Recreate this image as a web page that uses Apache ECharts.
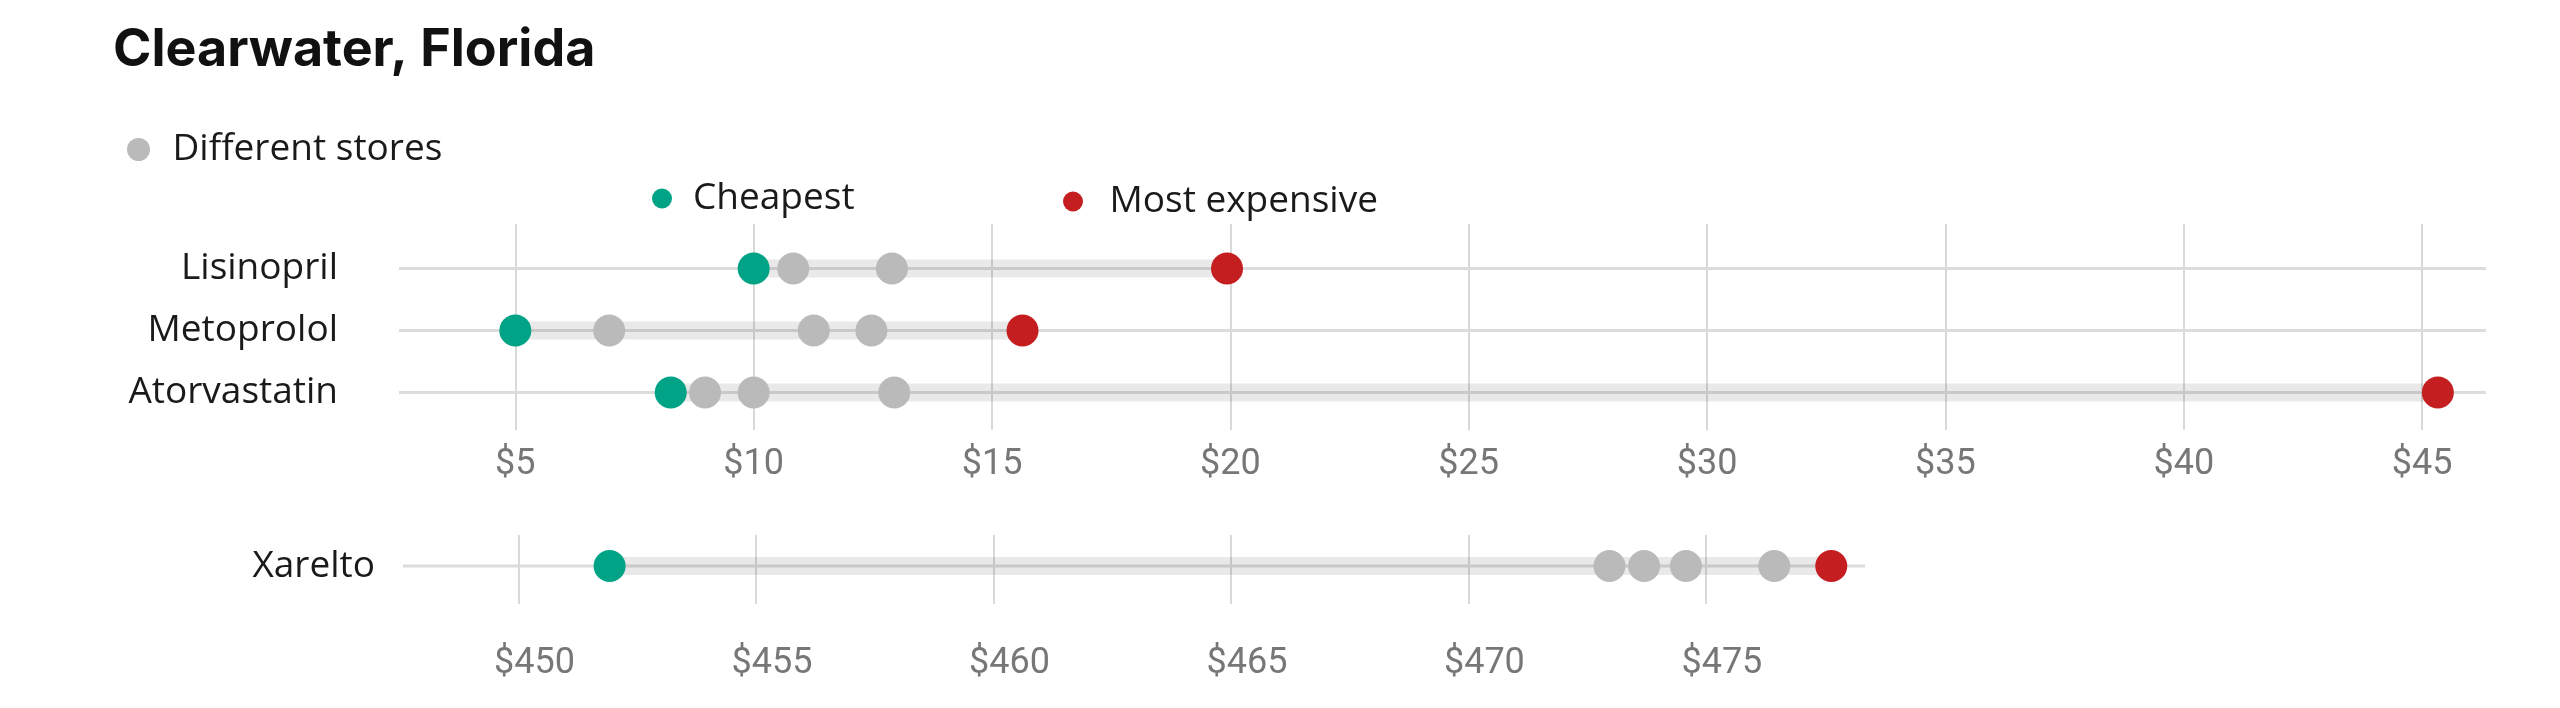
<!DOCTYPE html>
<html>
<head>
<meta charset="utf-8">
<script src="https://cdn.jsdelivr.net/npm/echarts@6/dist/echarts.min.js"></script>
<style>
html,body{margin:0;padding:0;background:#fff;}
#chart{width:2560px;height:708px;}
</style>
</head>
<body>
<div id="chart"></div>
<script>
// ---- data ----
const titleText = 'Clearwater, Florida';
const drugs = ['Lisinopril', 'Metoprolol', 'Atorvastatin'];
const cheapest = [10.0, 5.0, 8.26];
const mostExpensive = [19.93, 15.64, 45.33];
const storePrices = [
  [10.83, 12.9],
  [6.97, 11.26, 12.47],
  [8.98, 10.0, 12.95]
];
const drugs2 = ['Xarelto'];
const cheapest2 = [451.92];
const mostExpensive2 = [477.64];
const storePrices2 = [
  [472.97, 473.7, 474.58, 476.44]
];
const topRange = [2.56, 46.34];
const bottomRange = [447.57, 478.35];
const tickStep = 5;
const legendNames = ['Different stores', 'Cheapest', 'Most expensive'];

// ---- styles ----
const C_GREY = '#bababa';
const C_GREEN = '#00a385';
const C_RED = '#c41e20';
const DOT = 32;

function storePoints(names, prices) {
  const out = [];
  names.forEach((n, i) => prices[i].forEach(v => out.push([v, n])));
  return out;
}
function pairPoints(names, vals) {
  return names.map((n, i) => [vals[i], n]);
}
function bandData(names, lo, hi) {
  return names.map((n, i) => [n, lo[i], hi[i]]);
}
function renderBand(params, api) {
  const cat = api.value(0);
  const cs = params.coordSys;
  const p0 = api.coord([api.value(1), cat]);
  const p1 = api.coord([api.value(2), cat]);
  const y = p0[1];
  return {
    type: 'group',
    children: [
      {type: 'line', shape: {x1: cs.x, y1: y, x2: cs.x + cs.width, y2: y},
       style: {stroke: '#dcdcdc', lineWidth: 3}},
      {type: 'rect', shape: {x: p0[0], y: y - 9, width: p1[0] - p0[0], height: 18},
       style: {fill: 'rgba(0,0,0,0.085)'}}
    ]
  };
}

function visibleX(gi, range, labelMargin, padLeft) {
  return {
    gridIndex: gi, type: 'value', min: range[0], max: range[1],
    minInterval: tickStep, maxInterval: tickStep,
    axisLine: {show: false}, axisTick: {show: false},
    splitLine: {show: true, showMinLine: false, showMaxLine: false,
      lineStyle: {color: '#d9d9d9', width: 2}},
    axisLabel: {formatter: v => '$' + v, fontFamily: 'Roboto', fontSize: 36,
      color: '#777777', margin: labelMargin, showMinLabel: false, showMaxLabel: false,
      padding: [0, 0, 0, padLeft]}
  };
}
function hiddenX(gi, range) {
  return {gridIndex: gi, type: 'value', min: range[0], max: range[1], show: false,
    splitLine: {show: false}};
}
function catY(gi, names, margin) {
  return {gridIndex: gi, type: 'category', data: names, inverse: true,
    axisLine: {show: false}, axisTick: {show: false}, splitLine: {show: false},
    axisLabel: {fontFamily: 'Open Sans', fontSize: 37, color: '#1a1a1a', margin: margin}};
}
function hiddenY(gi) {
  return {gridIndex: gi, type: 'value', min: 0, max: 1, show: false, splitLine: {show: false}};
}
function dotSeries(name, color, xi, yi, data) {
  return {name: name, type: 'scatter', xAxisIndex: xi, yAxisIndex: yi,
    symbol: 'circle', symbolSize: DOT, itemStyle: {color: color, opacity: 1},
    data: data, z: 3, emphasis: {disabled: true}};
}

const chart = echarts.init(document.getElementById('chart'));
chart.setOption({
  animation: false,
  backgroundColor: '#ffffff',
  title: {
    text: titleText, left: 108, top: 19,
    textStyle: {fontFamily: 'Inter', fontWeight: 'bold', fontSize: 52, color: '#111111'}
  },
  legend: [
    {data: [legendNames[0]], left: 127, top: 131, padding: 0, icon: 'circle',
     itemWidth: 58, itemHeight: 23, selectedMode: false,
     textStyle: {fontFamily: 'Open Sans', fontSize: 37, color: '#1a1a1a'}},
    {data: [legendNames[1]], left: 652, top: 180, padding: 0, icon: 'circle',
     itemWidth: 52, itemHeight: 20, selectedMode: false,
     textStyle: {fontFamily: 'Open Sans', fontSize: 37, color: '#1a1a1a'}},
    {data: [legendNames[2]], left: 1063, top: 183, padding: 0, icon: 'circle',
     itemWidth: 63, itemHeight: 20, selectedMode: false,
     textStyle: {fontFamily: 'Open Sans', fontSize: 37, color: '#1a1a1a'}}
  ],
  grid: [
    {left: 399, width: 2087, top: 224, height: 206},
    {left: 399, width: 2087, top: 237.5, height: 186},
    {left: 403, width: 1462, top: 535, height: 69},
    {left: 403, width: 1462, top: 546, height: 40}
  ],
  xAxis: [
    visibleX(0, topRange, 17, 0),
    hiddenX(1, topRange),
    visibleX(2, bottomRange, 42, 32),
    hiddenX(3, bottomRange)
  ],
  yAxis: [
    hiddenY(0),
    catY(1, drugs, 61),
    hiddenY(2),
    catY(3, drugs2, 28)
  ],
  series: [
    {type: 'custom', xAxisIndex: 1, yAxisIndex: 1, renderItem: renderBand,
     encode: {x: [1, 2], y: 0}, data: bandData(drugs, cheapest, mostExpensive), z: 1, silent: true},
    {type: 'custom', xAxisIndex: 3, yAxisIndex: 3, renderItem: renderBand,
     encode: {x: [1, 2], y: 0}, data: bandData(drugs2, cheapest2, mostExpensive2), z: 1, silent: true},
    dotSeries(legendNames[0], C_GREY, 1, 1, storePoints(drugs, storePrices)),
    dotSeries(legendNames[1], C_GREEN, 1, 1, pairPoints(drugs, cheapest)),
    dotSeries(legendNames[2], C_RED, 1, 1, pairPoints(drugs, mostExpensive)),
    dotSeries(legendNames[0], C_GREY, 3, 3, storePoints(drugs2, storePrices2)),
    dotSeries(legendNames[1], C_GREEN, 3, 3, pairPoints(drugs2, cheapest2)),
    dotSeries(legendNames[2], C_RED, 3, 3, pairPoints(drugs2, mostExpensive2))
  ]
});
</script>
</body>
</html>
